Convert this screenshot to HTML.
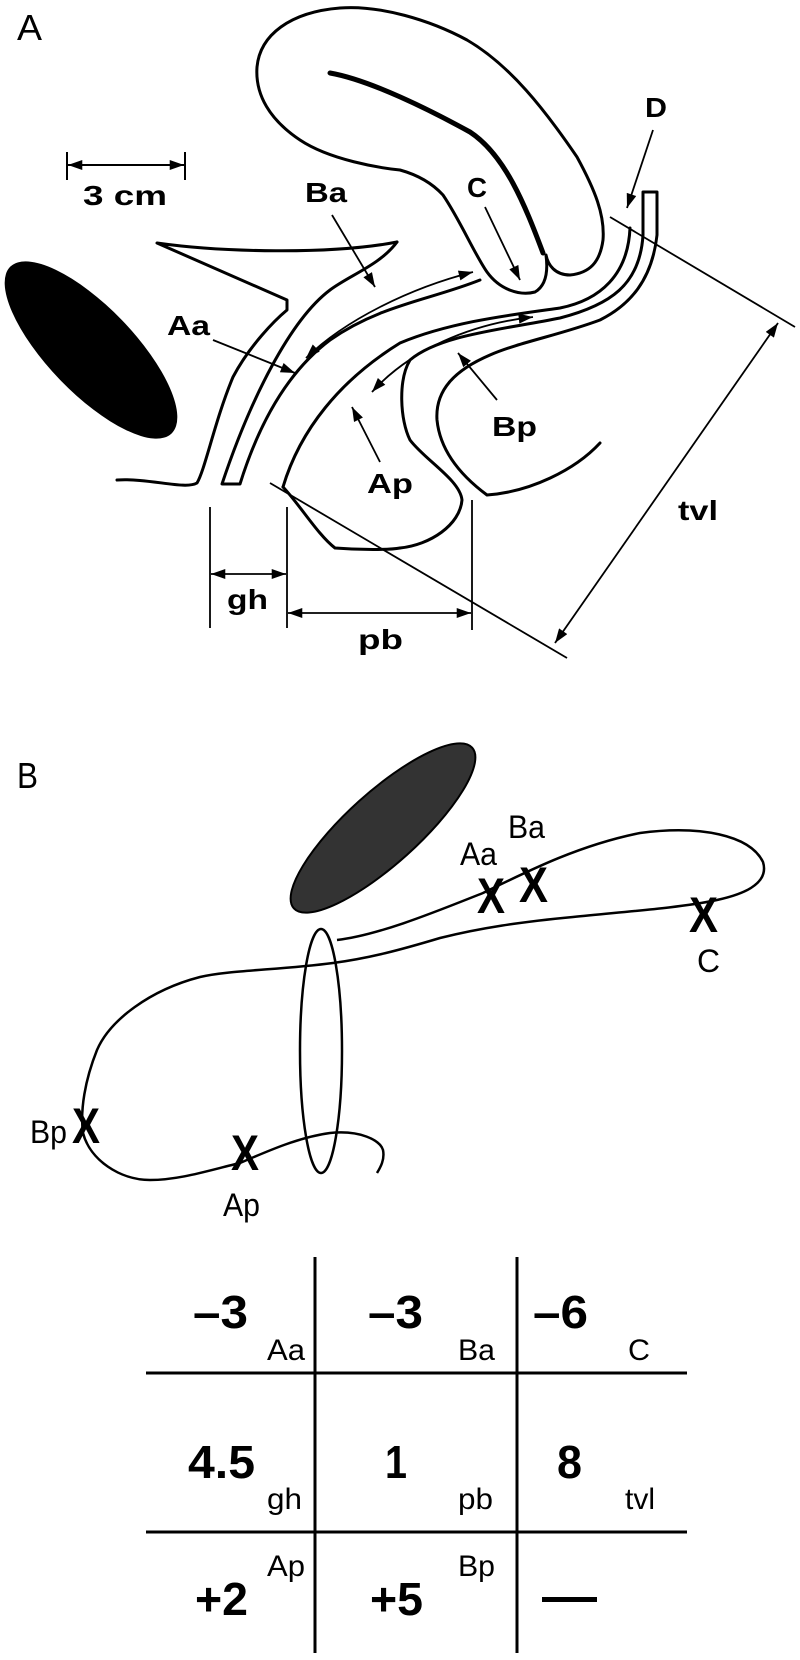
<!DOCTYPE html>
<html><head><meta charset="utf-8"><style>
html,body{margin:0;padding:0;background:#fff;}
svg{display:block;}
text{font-family:"Liberation Sans",Arial,sans-serif;fill:#000;}
.b{font-weight:bold;}
</style></head><body>
<svg width="800" height="1660" viewBox="0 0 800 1660" xmlns="http://www.w3.org/2000/svg">
<defs>
<marker id="ah" viewBox="0 0 10 7" refX="10" refY="3.5" markerUnits="userSpaceOnUse" markerWidth="15" markerHeight="10" orient="auto-start-reverse">
<path d="M0,0 L10,3.5 L0,7 z" fill="#000"/></marker>
</defs>

<!-- PANEL A -->
<text x="17" y="40" font-size="36" textLength="25" lengthAdjust="spacingAndGlyphs">A</text>

<!-- scale bar -->
<g stroke="#000" stroke-width="2" fill="none">
<line x1="67" y1="152" x2="67" y2="180"/><line x1="185" y1="152" x2="185" y2="180"/>
<line x1="68" y1="165" x2="184" y2="165" marker-start="url(#ah)" marker-end="url(#ah)"/>
</g>
<text class="b" x="83" y="205" font-size="28" textLength="84" lengthAdjust="spacingAndGlyphs">3 cm</text>

<!-- black ellipse -->
<ellipse cx="91" cy="350" rx="116" ry="43" transform="rotate(46 91 350)" fill="#000"/>

<g stroke="#000" stroke-width="3" fill="none" stroke-linejoin="round" stroke-linecap="round">
<!-- uterus -->
<path d="M400,170 C380,168 330,160 300,140 C270,120 255,95 257,67 C260,35 290,12 340,8 C380,5 430,20 467,40 C510,65 545,110 577,157 C595,190 605,215 603,240 C600,262 590,273 570,275 C555,275 548,265 546,255 C548,270 547,285 535,292 C520,296 500,290 487,272 C475,255 460,220 443,195 C432,183 418,175 400,170 Z"/>
<!-- pubic / anterior outline -->
<path d="M117,480 C150,478 185,490 197,483 C205,470 215,420 233,377 C250,345 275,320 287,310 L287,300 L157,243 C220,252 330,255 397,242"/>
<!-- anterior tube -->
<path d="M397,242 C380,265 350,275 330,290 C290,320 250,400 222,484 L240,484 C260,420 290,370 330,340 C380,305 430,300 480,280"/>
<!-- posterior vaginal wall -->
<path d="M283,487 C300,430 340,380 400,343 C450,322 510,315 560,308 C600,300 628,275 630,228"/>
<!-- perineal body right edge, U tube, rectum -->
<path d="M400,548 C430,545 460,525 462,500 C460,480 425,460 410,440 C400,420 398,380 410,360 C440,335 500,330 560,318 C610,305 640,285 643,235 L643,192 L657,192 L657,235 C652,280 630,305 600,320 C560,335 520,342 490,355 C455,370 435,390 437,420 C440,450 460,475 487,495 C530,492 575,470 600,443"/>
<!-- perineum bottom -->
<path d="M283,487 C300,505 318,535 335,548 C360,550 390,550 400,548"/>
</g>
<!-- uterine cavity -->
<path d="M330,73 C370,80 430,110 470,132 C505,155 525,205 543,253" stroke="#000" stroke-width="5" fill="none" stroke-linecap="round"/>

<g stroke="#000" stroke-width="1.8" fill="none">
<!-- double arrows along walls -->
<path d="M473,272 C410,288 345,320 306,358" marker-start="url(#ah)" marker-end="url(#ah)"/>
<path d="M533,317 C470,324 410,350 372,392" marker-start="url(#ah)" marker-end="url(#ah)"/>
<!-- label arrows -->
<line x1="332" y1="215" x2="375" y2="287" marker-end="url(#ah)"/>
<line x1="213" y1="340" x2="295" y2="373" marker-end="url(#ah)"/>
<line x1="485" y1="207" x2="520" y2="280" marker-end="url(#ah)"/>
<line x1="653" y1="130" x2="627" y2="208" marker-end="url(#ah)"/>
<line x1="497" y1="400" x2="458" y2="353" marker-end="url(#ah)"/>
<line x1="380" y1="462" x2="352" y2="407" marker-end="url(#ah)"/>
<!-- dimensions -->
<line x1="210" y1="507" x2="210" y2="628"/>
<line x1="287" y1="507" x2="287" y2="628"/>
<line x1="472" y1="500" x2="472" y2="630"/>
<line x1="211" y1="574" x2="286" y2="574" marker-start="url(#ah)" marker-end="url(#ah)"/>
<line x1="288" y1="613" x2="471" y2="613" marker-start="url(#ah)" marker-end="url(#ah)"/>
<line x1="270" y1="483" x2="567" y2="658"/>
<line x1="610" y1="217" x2="795" y2="327"/>
<line x1="778" y1="323" x2="555" y2="643" marker-start="url(#ah)" marker-end="url(#ah)"/>
</g>

<g class="b" font-size="28">
<text class="b" x="305" y="202" textLength="42" lengthAdjust="spacingAndGlyphs">Ba</text>
<text class="b" x="167" y="335" textLength="43" lengthAdjust="spacingAndGlyphs">Aa</text>
<text class="b" x="467" y="197" textLength="20" lengthAdjust="spacingAndGlyphs">C</text>
<text class="b" x="645" y="117" textLength="22" lengthAdjust="spacingAndGlyphs">D</text>
<text class="b" x="492" y="436" textLength="45" lengthAdjust="spacingAndGlyphs">Bp</text>
<text class="b" x="367" y="493" textLength="46" lengthAdjust="spacingAndGlyphs">Ap</text>
<text class="b" x="678" y="520" textLength="40" lengthAdjust="spacingAndGlyphs">tvl</text>
<text class="b" x="227" y="609" textLength="41" lengthAdjust="spacingAndGlyphs">gh</text>
<text class="b" x="358" y="649" textLength="45" lengthAdjust="spacingAndGlyphs">pb</text>
</g>

<!-- PANEL B -->
<text x="17" y="788" font-size="36" textLength="21" lengthAdjust="spacingAndGlyphs">B</text>
<ellipse cx="383" cy="828" rx="120" ry="36" transform="rotate(-42 383 828)" fill="#333" stroke="#000" stroke-width="2"/>
<ellipse cx="321" cy="1051" rx="21" ry="122" fill="none" stroke="#000" stroke-width="2.5"/>
<path d="M337,940 C380,935 440,910 483,893 C530,870 580,845 640,833 C700,825 750,835 763,862 C770,885 740,895 717,900 C680,908 620,912 573,917 C520,922 480,928 440,938 C400,950 370,958 333,963 C280,970 230,970 200,977 C150,990 110,1020 97,1050 C85,1080 80,1110 83,1133 C90,1160 120,1180 150,1180 C180,1180 210,1170 240,1163 C270,1150 300,1137 330,1133 C360,1130 380,1140 383,1150 C385,1160 380,1168 377,1173" fill="none" stroke="#000" stroke-width="2.5"/>

<g class="b" font-size="50">
<text class="b" x="72" y="1143" textLength="28" lengthAdjust="spacingAndGlyphs">X</text>
<text class="b" x="231" y="1170" textLength="28" lengthAdjust="spacingAndGlyphs">X</text>
<text class="b" x="477" y="913" textLength="28" lengthAdjust="spacingAndGlyphs">X</text>
<text class="b" x="519" y="902" textLength="29" lengthAdjust="spacingAndGlyphs">X</text>
<text class="b" x="689" y="932" textLength="29" lengthAdjust="spacingAndGlyphs">X</text>
</g>
<g font-size="32">
<text x="30" y="1143" textLength="37" lengthAdjust="spacingAndGlyphs">Bp</text>
<text x="223" y="1216" textLength="37" lengthAdjust="spacingAndGlyphs">Ap</text>
<text x="460" y="865" textLength="37" lengthAdjust="spacingAndGlyphs">Aa</text>
<text x="508" y="838" textLength="37" lengthAdjust="spacingAndGlyphs">Ba</text>
<text x="697" y="972" textLength="23" lengthAdjust="spacingAndGlyphs">C</text>
</g>

<!-- TABLE -->
<g stroke="#000" stroke-width="3">
<line x1="315" y1="1257" x2="315" y2="1653"/>
<line x1="517" y1="1257" x2="517" y2="1653"/>
<line x1="146" y1="1373" x2="687" y2="1373"/>
<line x1="146" y1="1532" x2="687" y2="1532"/>
</g>
<g class="b" font-size="46">
<text class="b" x="193" y="1328" textLength="55" lengthAdjust="spacingAndGlyphs">–3</text>
<text class="b" x="368" y="1328" textLength="55" lengthAdjust="spacingAndGlyphs">–3</text>
<text class="b" x="533" y="1328" textLength="55" lengthAdjust="spacingAndGlyphs">–6</text>
<text class="b" x="188" y="1478" textLength="67" lengthAdjust="spacingAndGlyphs">4.5</text>
<text class="b" x="385" y="1478" textLength="22" lengthAdjust="spacingAndGlyphs">1</text>
<text class="b" x="557" y="1478" textLength="25" lengthAdjust="spacingAndGlyphs">8</text>
<text class="b" x="195" y="1615" textLength="53" lengthAdjust="spacingAndGlyphs">+2</text>
<text class="b" x="370" y="1615" textLength="53" lengthAdjust="spacingAndGlyphs">+5</text>
</g>
<rect x="542" y="1597" width="55" height="5" fill="#000"/>
<g font-size="30">
<text x="267" y="1360" textLength="38" lengthAdjust="spacingAndGlyphs">Aa</text>
<text x="458" y="1360" textLength="37" lengthAdjust="spacingAndGlyphs">Ba</text>
<text x="628" y="1360" textLength="22" lengthAdjust="spacingAndGlyphs">C</text>
<text x="267" y="1509" textLength="35" lengthAdjust="spacingAndGlyphs">gh</text>
<text x="458" y="1509" textLength="35" lengthAdjust="spacingAndGlyphs">pb</text>
<text x="625" y="1509" textLength="30" lengthAdjust="spacingAndGlyphs">tvl</text>
<text x="267" y="1576" textLength="38" lengthAdjust="spacingAndGlyphs">Ap</text>
<text x="458" y="1576" textLength="37" lengthAdjust="spacingAndGlyphs">Bp</text>
</g>
</svg>
</body></html>
